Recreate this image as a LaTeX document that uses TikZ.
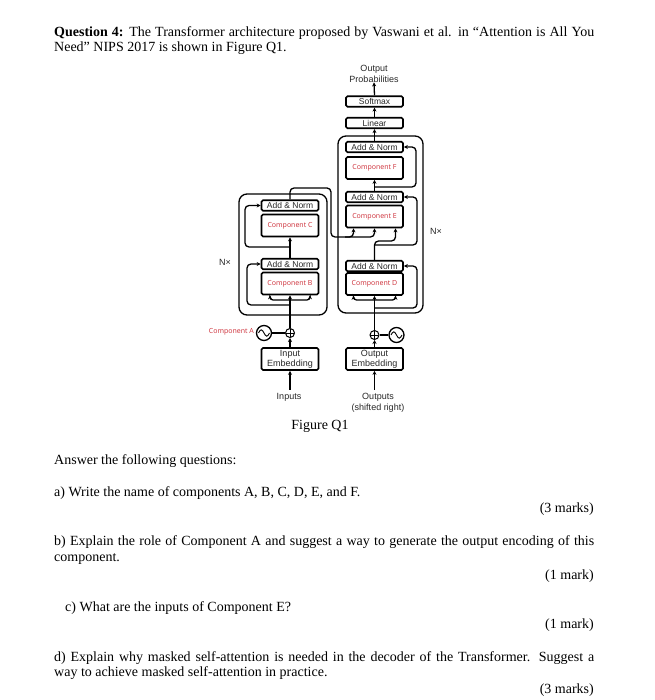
\documentclass[tikz,border=0pt]{standalone}
\usepackage{fontspec}
\setmainfont{Liberation Serif}
\newfontfamily\diagfont{Liberation Sans}
\newfontfamily\compfont{Open Sans}
\usetikzlibrary{arrows.meta,calc}
\definecolor{compred}{RGB}{205,45,55}
\definecolor{diagtext}{RGB}{40,40,40}
\begin{document}
\begin{tikzpicture}[x=1pt,y=-1pt,
  anbox/.style={draw, line width=1.7pt, rounded corners=1.5pt, minimum width=57pt, minimum height=10.5pt, inner sep=0pt, text=diagtext, font=\diagfont\fontsize{8.5}{9}\selectfont},
  compbox/.style={draw, line width=1.7pt, rounded corners=1.5pt, minimum width=57pt, minimum height=22pt, inner sep=0pt, text=compred, font=\compfont\fontsize{7}{8}\selectfont},
  embbox/.style={draw, line width=1.7pt, rounded corners=1.5pt, minimum width=57pt, minimum height=22pt, inner sep=0pt, align=center, text=diagtext, font=\diagfont\fontsize{9}{10}\selectfont},
  outerbox/.style={draw, line width=1.3pt, rounded corners=8pt, inner sep=0pt},
  conn/.style={line width=1.3pt},
  arr/.style={conn, -{Stealth[length=4pt,width=4pt]}},
  lbl/.style={inner sep=0pt, align=center, text=diagtext, font=\diagfont\fontsize{9}{11}\selectfont},
  complbl/.style={inner sep=0pt, text=compred, font=\compfont\fontsize{7}{8}\selectfont},
  plusnode/.style={draw, circle, line width=1pt, minimum size=9pt, inner sep=0pt,
    path picture={\draw[line width=0.8pt] (path picture bounding box.north) -- (path picture bounding box.south)
      (path picture bounding box.west) -- (path picture bounding box.east);}},
  sinenode/.style={draw, circle, line width=1.3pt, minimum size=15pt, inner sep=0pt,
    path picture={\draw[line width=0.9pt] ([xshift=-5.5pt]path picture bounding box.center) sin ++(2.75pt,3.2pt) cos ++(2.75pt,-3.2pt) sin ++(2.75pt,-3.2pt) cos ++(2.75pt,3.2pt);}},
  body/.style={inner sep=0pt, anchor=base west, font=\fontsize{14}{16}\selectfont},
  bodyr/.style={inner sep=0pt, anchor=base east, font=\fontsize{14}{16}\selectfont},
]
\useasboundingbox[fill=white] (0,0) rectangle (654,700);

% ---------- body text ----------
\node[body] (t1) at (54,37) {\makebox[540pt][s]{\textbf{Question 4:} The Transformer architecture proposed by Vaswani et al. in “Attention is All You}};
\node[body] (t2) at (54,52) {Need” NIPS 2017 is shown in Figure Q1.};
\node[inner sep=0pt, anchor=base, font=\fontsize{14}{16}\selectfont] (fig) at (320,429) {Figure Q1};
\node[body] (t3) at (54,464) {Answer the following questions:};
\node[body] (t4) at (54,496) {a) Write the name of components A, B, C, D, E, and F.};
\node[bodyr] (m1) at (594,512) {(3 marks)};
\node[body] (t5) at (54,545) {\makebox[540pt][s]{b) Explain the role of Component A and suggest a way to generate the output encoding of this}};
\node[body] (t6) at (54,561) {component.};
\node[bodyr] (m2) at (594,579) {(1 mark)};
\node[body] (t7) at (65,611) {c) What are the inputs of Component E?};
\node[bodyr] (m3) at (594,628) {(1 mark)};
\node[body] (t8) at (54,661) {\makebox[540pt][s]{d) Explain why masked self-attention is needed in the decoder of the Transformer. Suggest a}};
\node[body] (t9) at (54,676) {way to achieve masked self-attention in practice.};
\node[bodyr] (m4) at (594,693) {(3 marks)};

% ---------- encoder ----------
\node[outerbox, minimum width=88pt, minimum height=121pt] (encbox) at (283,254.5) {};
\node[anbox] (anc) at (290,205.5) {Add \& Norm};
\node[compbox] (cc) at (290,225.5) {Component C};
\node[anbox] (anb) at (290,264) {Add \& Norm};
\node[compbox] (cb) at (290,283.5) {Component B};
\node[plusnode] (ep) at (290,333) {};
\node[sinenode] (es) at (264,333) {};
\node[embbox] (ie) at (290,359) {Input\\Embedding};
\node[lbl] (inp) at (289,397) {Inputs};
\node[complbl, anchor=east] (ca) at (254,332) {Component A};
\node[lbl] (nxl) at (225,262) {N×};

% ---------- decoder ----------
\node[outerbox, minimum width=85pt, minimum height=177pt] (decbox) at (380.5,224.5) {};
\node[lbl] (prob) at (374,73.5) {Output\\Probabilities};
\node[anbox] (sm) at (374.5,101.5) {Softmax};
\node[anbox] (lin) at (374.5,123) {Linear};
\node[anbox] (anf) at (374.5,147) {Add \& Norm};
\node[compbox] (cf) at (374.5,168) {Component F};
\node[anbox] (ane) at (374.5,197) {Add \& Norm};
\node[compbox] (ce) at (374.5,216.5) {Component E};
\node[anbox] (and) at (374.5,266) {Add \& Norm};
\node[compbox] (cd) at (374.5,284) {Component D};
\node[plusnode] (dp) at (374.5,335) {};
\node[sinenode] (ds) at (396.5,335) {};
\node[embbox] (oe) at (374.5,359) {Output\\Embedding};
\node[lbl] (outp) at (378,402.5) {Outputs\\(shifted right)};
\node[lbl] (nxr) at (436,231) {N×};

% ---------- encoder connectors ----------
\path (inp.north -| ie.south) coordinate (ia);
\draw[arr] ([yshift=3pt]ia) -- (ie.south);
\draw[arr] (ie.north) -- (ep.south);
\draw[conn] (es.east) -- (ep.west);
\draw[arr] (ep.north) -- (cb.south);
\coordinate (eb1) at (290,300);
\coordinate (eb2) at (290,305);
\coordinate (eb3) at (290,247);
\draw[arr, rounded corners=3pt] (eb1) -| ([xshift=-20pt]cb.south);
\draw[arr, rounded corners=3pt] (eb1) -| ([xshift=20pt]cb.south);
\draw[arr, rounded corners=4pt] (eb2) -| (247,264) -- (anb.west);
\draw[arr] (anb.north) -- (cc.south);
\draw[arr, rounded corners=4pt] (eb3) -| (245,205.5) -- (anc.west);
\draw[arr, rounded corners=4pt] (anc.north) |- (331,188) -- (331,237) -| ([xshift=-21pt]ce.south);
\draw[arr, rounded corners=4pt] (345,237) -| (ce.south);

% ---------- decoder connectors ----------
\path (outp.north -| oe.south) coordinate (oa);
\draw[arr] ([yshift=3pt]oa) -- (oe.south);
\draw[arr] (oe.north) -- (dp.south);
\draw[conn] (ds.west) -- (dp.east);
\draw[arr] (dp.north) -- (cd.south);
\coordinate (db1) at (374.5,300);
\coordinate (db2) at (374.5,308);
\coordinate (db3) at (374.5,245);
\coordinate (db4) at (374.5,187);
\draw[arr, rounded corners=3pt] (db1) -| ([xshift=-21pt]cd.south);
\draw[arr, rounded corners=3pt] (db1) -| ([xshift=21pt]cd.south);
\draw[arr, rounded corners=4pt] (db2) -| (417,266) -- (and.east);
\draw[arr, rounded corners=4pt] (and.north) |- (395.5,241) -- ([xshift=21pt]ce.south);
\draw[arr, rounded corners=4pt] (db3) -| (417,197) -- (ane.east);
\draw[arr] (ane.north) -- (cf.south);
\draw[arr, rounded corners=4pt] (db4) -| (416,147) -- (anf.east);
\draw[arr] (anf.north) -- (lin.south);
\draw[arr] (lin.north) -- (sm.south);
\draw[arr] (sm.north) -- (prob.south);
\end{tikzpicture}
\end{document}
